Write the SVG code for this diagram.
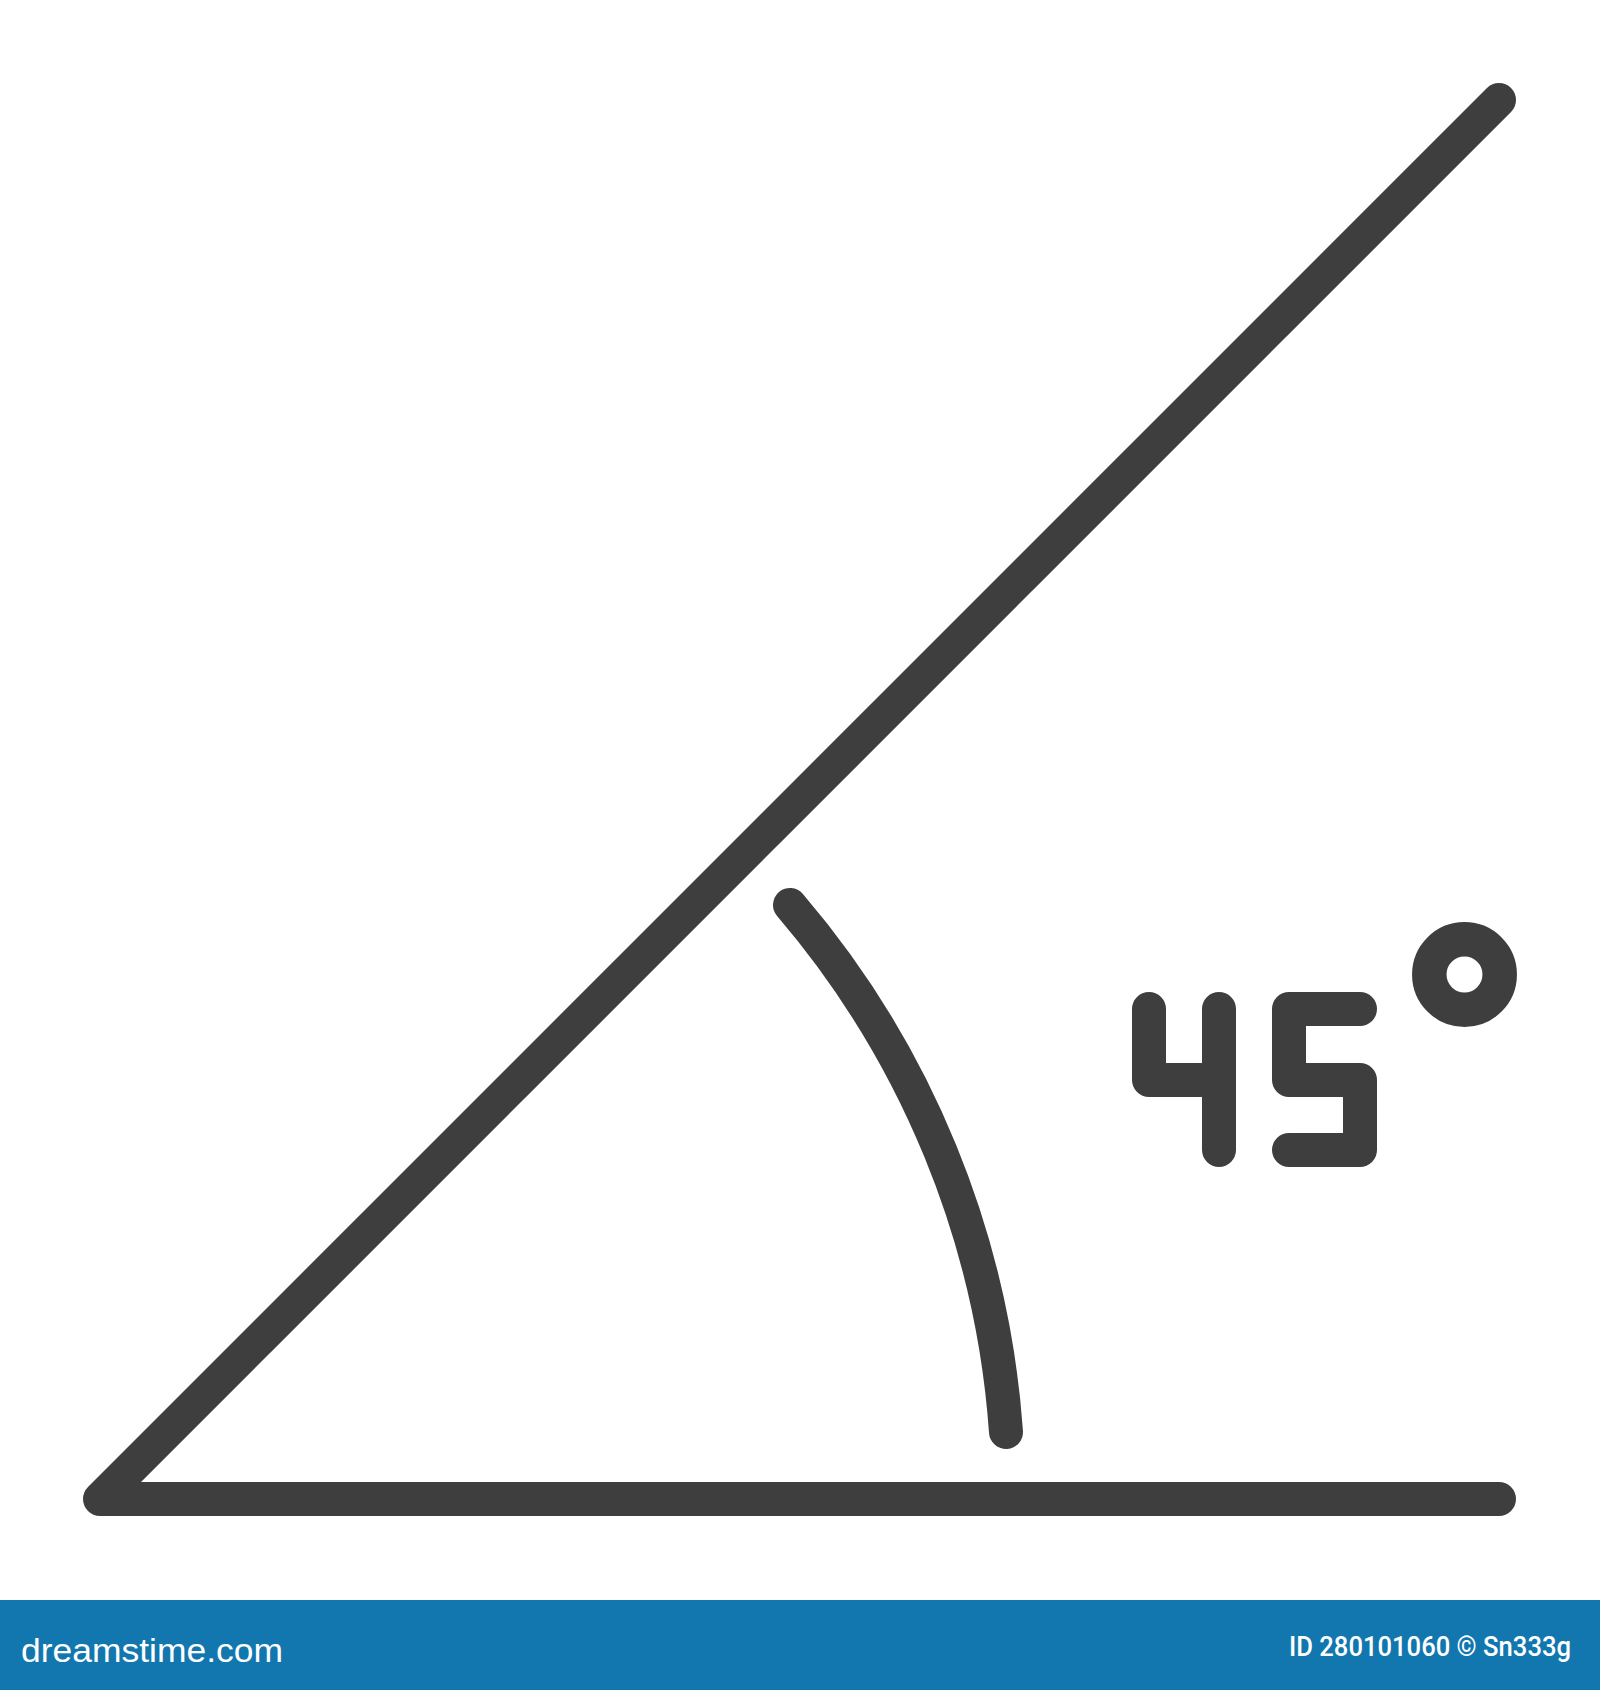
<svg xmlns="http://www.w3.org/2000/svg" width="1600" height="1690" viewBox="0 0 1600 1690">
  <style>
    .ln { fill: none; stroke: #3e3e3e; stroke-width: 34; stroke-linecap: round; stroke-linejoin: round; }
    .ban { font-family: "Liberation Sans", Arial, sans-serif; fill: #ffffff; }
  </style>
  <rect x="0" y="0" width="1600" height="1690" fill="#ffffff"/>
  <g id="angle">
    <path class="ln" d="M1499 100 L100 1499 L1499 1499"/>
  </g>
  <g id="arc">
    <path class="ln" d="M790 905 A909 909 0 0 1 1006 1432"/>
  </g>
  <g id="label-45deg">
    <path class="ln" d="M1149 1009 V1080 H1219"/>
    <path class="ln" d="M1219 1009 V1150"/>
    <path class="ln" d="M1360 1009 H1289 V1080 H1360 V1150 H1289"/>
    <circle cx="1464.5" cy="974.5" r="35.2" fill="none" stroke="#3e3e3e" stroke-width="34.5"/>
  </g>
  <g id="banner">
    <rect x="0" y="1600" width="1600" height="90" fill="#1177ae"/>
    <text class="ban" x="21" y="1662" font-size="33" textLength="262" lengthAdjust="spacingAndGlyphs">dreamstime.com</text>
    <text x="1289" y="1656" font-family="Roboto, 'Liberation Sans', sans-serif" font-weight="500" font-size="28" fill="#ffffff" textLength="282" lengthAdjust="spacingAndGlyphs">ID 280101060 © Sn333g</text>
  </g>
</svg>
